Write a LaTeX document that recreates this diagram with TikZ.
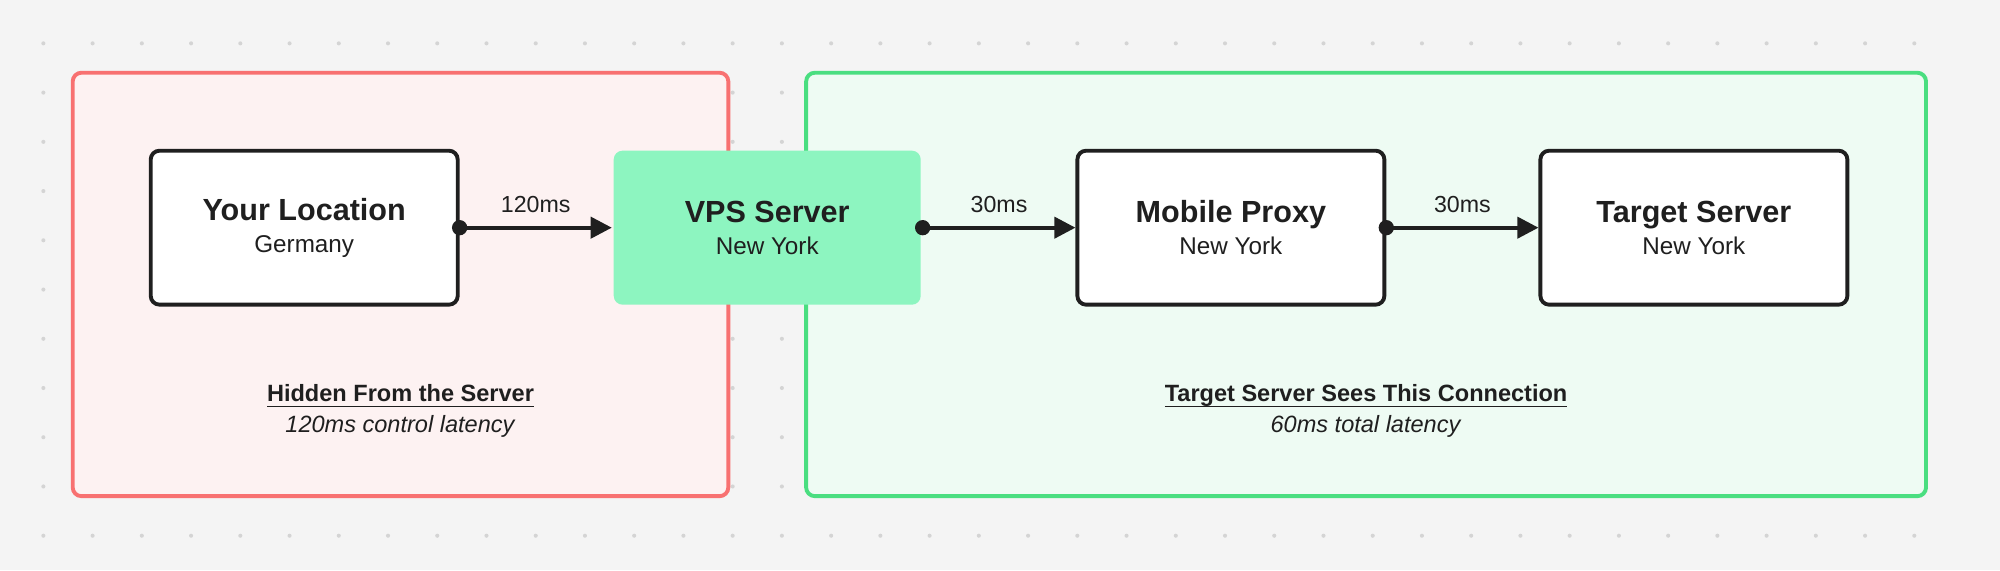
\documentclass[tikz,border=0pt]{standalone}
\usepackage{fontspec}
\setmainfont{Liberation Sans}
\usetikzlibrary{positioning,arrows.meta}
\definecolor{bggray}{HTML}{F4F4F4}
\definecolor{dotgray}{HTML}{D4D4D4}
\definecolor{redline}{HTML}{F87171}
\definecolor{redfill}{HTML}{FDF2F2}
\definecolor{greenline}{HTML}{4ADE80}
\definecolor{greenfill}{HTML}{EEFBF3}
\definecolor{vpsfill}{HTML}{8DF5C0}
\definecolor{ink}{HTML}{1F1F1F}
\tikzset{
  zone/.style={rounded corners=2.5pt, line width=1.1pt},
  hop/.style={rectangle, draw=ink, line width=1.1pt, fill=white, rounded corners=2.5pt,
    minimum width=3.07cm, minimum height=1.54cm, align=center, text=ink},
  vps/.style={hop, draw=none, fill=vpsfill},
  link/.style={draw=ink, line width=1.1pt, -{Triangle[length=6pt,width=6pt]}},
  lat/.style={font=\fontsize{6.6}{7}\selectfont, text=ink, above=0.5pt}
}
\newcommand{\hoptext}[2]{{\fontsize{8.7}{9}\selectfont\bfseries #1}\\[-3pt]{\fontsize{6.9}{7}\selectfont #2}}
\newcommand{\capline}[1]{\underline{\smash{#1}}}
\begin{document}
\begin{tikzpicture}[x=0.012755cm, y=-0.012755cm]
	\fill [bggray] (0,0) rectangle (1568,447);
	\useasboundingbox (0,0) rectangle (1568,447);
	\foreach \i in {0,...,38}
		\foreach \j in {0,...,10}
			\fill [dotgray] (34+38.6*\i, 34+38.6*\j) circle (1.6);
	% zones
	\draw [zone, draw=redline, fill=redfill] (57,57) rectangle (571,389);
	\draw [zone, draw=greenline, fill=greenfill] (632,57) rectangle (1510,389);
	% hops
	\node [hop] (home) at (238.5,178.5) {\hoptext{Your Location}{Germany}};
	\node [vps] (vps) at (601.5,178.5) {\hoptext{VPS Server}{New York}};
	\node [hop] (proxy) at (965,178.5) {\hoptext{Mobile Proxy}{New York}};
	\node [hop] (target) at (1328,178.5) {\hoptext{Target Server}{New York}};
	\foreach \a/\b/\t in {home/vps/120ms, vps/proxy/30ms, proxy/target/30ms} {
		\fill [ink] (\a.east) circle (6);
		\path [link] (\a.east) -- node [lat] {\t} (\b.west);
	}
	% captions
	\node [text=ink, align=center, font=\fontsize{6.7}{8.8}\selectfont] (hidden) at (314,329)
		{\textbf{\capline{Hidden From the Server}}\\\textit{120ms control latency}};
	\node [text=ink, align=center, font=\fontsize{6.7}{8.8}\selectfont] (seen) at (1071,329)
		{\textbf{\capline{Target Server Sees This Connection}}\\\textit{60ms total latency}};
\end{tikzpicture}
\end{document}
